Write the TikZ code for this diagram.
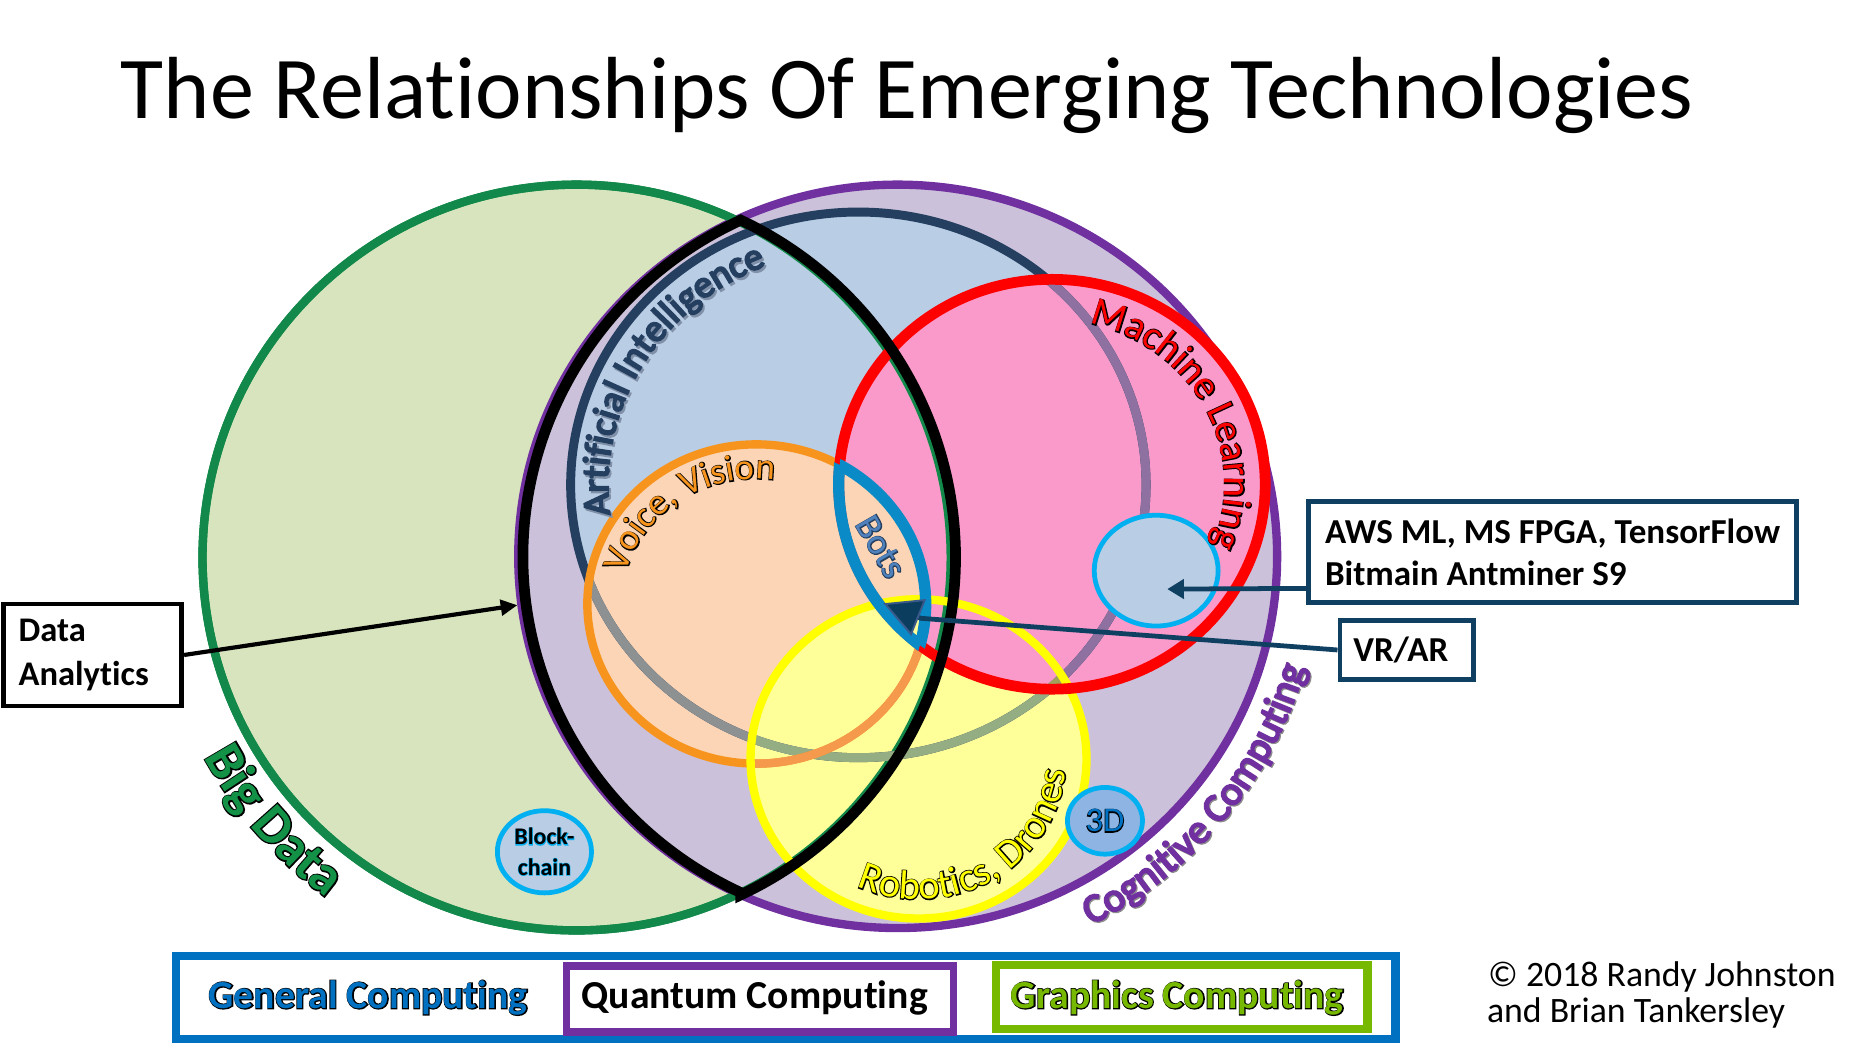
\documentclass[tikz,border=0pt]{standalone}
\usepackage{fontspec}
\setmainfont{Carlito}[Ligatures=NoCommon]
\newfontfamily\fatfont{Carlito}[FakeBold=5, Ligatures=NoCommon]
\usetikzlibrary{decorations.text,arrows.meta,shapes.geometric}
\definecolor{bdline}{HTML}{12894A}
\definecolor{bdfill}{HTML}{D7E4BD}
\definecolor{bdtext}{HTML}{139247}
\definecolor{ccline}{HTML}{7030A0}
\definecolor{ccfill}{HTML}{CCC1DA}
\definecolor{ailine}{HTML}{243F60}
\definecolor{aifill}{HTML}{B9CDE5}
\definecolor{aigrey}{HTML}{8E9191}
\definecolor{aigreen}{HTML}{95AD83}
\definecolor{aipurp}{HTML}{8E71A0}
\definecolor{aiolive}{HTML}{A3A05C}
\definecolor{aishadow}{HTML}{8090A8}
\definecolor{mlline}{HTML}{FF0000}
\definecolor{mlfill}{HTML}{FA9ACA}
\definecolor{orline}{HTML}{F7941D}
\definecolor{orlight}{HTML}{F5994C}
\definecolor{orfill}{HTML}{FBD5B5}
\definecolor{yeline}{HTML}{FFFF00}
\definecolor{yefill}{HTML}{FFFF99}
\definecolor{botsline}{HTML}{0A8AC6}
\definecolor{botstext}{HTML}{4F81BD}
\definecolor{cyanline}{HTML}{00B0F0}
\definecolor{tdfill}{HTML}{8DB4E2}
\definecolor{navybox}{HTML}{0F4061}
\definecolor{vrfill}{HTML}{0B3D5E}
\definecolor{vredge}{HTML}{3A5A8C}
\definecolor{legblue}{HTML}{0070C0}
\definecolor{leggreen}{HTML}{76B900}
\newcommand{\outl}[3]{\rlap{\color{#1}\fatfont #3}{\color{#2}#3}}
\begin{document}
\begin{tikzpicture}[x=1pt,y=1pt]
\tikzset{
  gE/.style={insert path={(484,422) ellipse [x radius=314, y radius=313]}},
  pE/.style={insert path={(753.5,423) ellipse [x radius=318.5, y radius=312]}},
  aE/.style={insert path={(720.5,483) ellipse [x radius=241.5, y radius=229]}},
  mE/.style={insert path={(883,483.5) ellipse [x radius=179, y radius=172]}},
  oE/.style={insert path={(635,383) ellipse [x radius=142, y radius=134]}},
  yE/.style={insert path={(771,253) ellipse [x radius=141, y radius=134]}},
  curved/.style n args={3}{decorate, decoration={text along path, text align=center, text color=#1, text={|#2|#3}}},
  boxstyle/.style={draw=navybox, line width=4pt, fill=white, inner sep=0pt, align=left, font=\bfseries\fontsize{29.4}{36}\selectfont},
  legtext/.style={anchor=base, inner sep=0pt, font=\bfseries\fontsize{33.3}{40}\selectfont},
  smallell/.style={ellipse, draw=cyanline, line width=4pt, inner sep=0pt},
}
\fill[white] (0,0) rectangle (1568,890);
\useasboundingbox (0,0) rectangle (1568,890);

% ---------- fills ----------
\filldraw[fill=bdfill, draw=bdline, line width=7pt, gE];
\filldraw[fill=ccfill, draw=ccline, line width=7pt, pE];
\fill[aifill, aE];
\fill[mlfill, mE];
\fill[orfill, oE];
\fill[yefill, yE];
\begin{scope}
  \clip[mE]; \clip[yE];
  \fill[mlfill, even odd rule] (500,0) rectangle (1200,700) (635,383) ellipse [x radius=142, y radius=134];
\end{scope}
\draw[bdline, line width=7pt, gE];

% ---------- AI outline (seen through the other shapes) ----------
\draw[ailine, line width=7.5pt, aE];
\begin{scope}\clip[oE]; \draw[aigrey, line width=7.5pt, aE];\end{scope}
\begin{scope}\clip[mE]; \draw[aipurp, line width=7.5pt, aE];\end{scope}
\begin{scope}\clip[yE]; \draw[aigreen, line width=7.5pt, aE];\end{scope}
\begin{scope}\clip[mE]; \clip[yE]; \draw[aiolive, line width=7.5pt, aE];\end{scope}

% ---------- other outlines ----------
\draw[orline, line width=7pt, oE];
\begin{scope}\clip[yE]; \draw[orlight, line width=7pt, oE];\end{scope}
\draw[yeline, line width=7pt, yE];
\draw[mlline, line width=9pt, mE];
\begin{scope}\clip[oE]; \draw[botsline, line width=9.5pt, mE];\end{scope}
\begin{scope}\clip[mE]; \draw[botsline, line width=9.5pt, oE];\end{scope}

% ---------- black lens (intersection of Big Data and Cognitive) ----------
\draw[black, line width=9pt, line join=miter] (488,422) ++(-64.8:314 and 313)
  arc[start angle=-64.8, end angle=64.8, x radius=314, y radius=313]
  arc[start angle=115.24, end angle=244.76, x radius=318.5, y radius=312] -- cycle;

% ---------- small circles ----------
\node[smallell, fill=aifill, minimum width=79pt, minimum height=69pt, align=center,
      font=\bfseries\fontsize{20}{25.3}\selectfont] (block) at (457,175)
      {\outl{cyanline}{black}{Block-}\\\outl{cyanline}{black}{chain}};
\node[smallell, fill=tdfill, minimum width=63pt, minimum height=56pt,
      font=\fontsize{29}{29}\selectfont] (td) at (927.5,201) {\outl{black}{legblue}{3D}};
\node[smallell, fill=aifill, minimum width=104pt, minimum height=93pt] (awsell) at (970.5,411) {};

% ---------- curved labels ----------
\path[curved={aishadow}{\fatfont\fontsize{32}{32}\selectfont}{Artificial Intelligence}]
  (722,481) ++(212:210 and 198) arc[start angle=212, end angle=88, x radius=210, y radius=198];
\path[curved={ailine}{\fatfont\fontsize{32}{32}\selectfont}{Artificial Intelligence}]
  (720.5,483) ++(212:210 and 198) arc[start angle=212, end angle=88, x radius=210, y radius=198];

\path[curved={black}{\fatfont\fontsize{31}{31}\selectfont}{Voice, Vision}]
  (635,383) ++(195:113 and 105) arc[start angle=195, end angle=55, x radius=113, y radius=105];
\path[curved={orline}{\fontsize{31}{31}\selectfont}{Voice, Vision}]
  (635,383) ++(195:113 and 105) arc[start angle=195, end angle=55, x radius=113, y radius=105];

\path[curved={black}{\fatfont\fontsize{33.5}{33.5}\selectfont}{Machine Learning}]
  (883,483.5) ++(100:145 and 138) arc[start angle=100, end angle=-45, x radius=145, y radius=138];
\path[curved={mlline}{\fontsize{33.5}{33.5}\selectfont}{Machine Learning}]
  (883,483.5) ++(100:145 and 138) arc[start angle=100, end angle=-45, x radius=145, y radius=138];

\path[curved={black}{\fatfont\fontsize{34}{34}\selectfont}{Robotics, Drones}]
  (771,253) ++(-130:124 and 118) arc[start angle=-130, end angle=11, x radius=124, y radius=118];
\path[curved={yeline}{\fontsize{34}{34}\selectfont}{Robotics, Drones}]
  (771,253) ++(-130:124 and 118) arc[start angle=-130, end angle=11, x radius=124, y radius=118];

\path[curved={black!45}{\fatfont\fontsize{34}{34}\selectfont}{Cognitive Computing}]
  (754.5,422) ++(-85:355 and 348) arc[start angle=-85, end angle=7, x radius=355, y radius=348];
\path[curved={ccline}{\fatfont\fontsize{34}{34}\selectfont}{Cognitive Computing}]
  (753.5,423) ++(-85:355 and 348) arc[start angle=-85, end angle=7, x radius=355, y radius=348];

\path[curved={black}{\fatfont\bfseries\fontsize{45.5}{45.5}\selectfont}{Big Data}]
  (484,422) ++(195:355 and 354) arc[start angle=195, end angle=247, x radius=355, y radius=354];
\path[curved={bdtext}{\bfseries\fontsize{45.5}{45.5}\selectfont}{Big Data}]
  (484,422) ++(195:355 and 354) arc[start angle=195, end angle=247, x radius=355, y radius=354];

\node[rotate=-60, inner sep=0pt, font=\fontsize{30.5}{30.5}\selectfont] (bots) at (739.5,431)
  {\outl{ailine}{botstext}{Bots}};

% ---------- callout boxes and arrows ----------
\node[boxstyle, draw=black, minimum width=149.7pt, minimum height=85.6pt, text width=124pt,
      font=\bfseries\fontsize{29}{36.4}\selectfont] (da) at (77.65,340.2) {Data\\Analytics};
\node[boxstyle, minimum width=409.7pt, minimum height=84.9pt] (aws)
      at (1303.2,426.4) {AWS ML, MS FPGA, TensorFlow\\Bitmain Antminer S9};
\node[boxstyle, minimum width=111.9pt, minimum height=49.2pt, text width=89.3pt] (vr)
      at (1180.65,344.4) {VR/AR};

\coordinate (datip) at (434.3,382);
\draw[black, line width=3.5pt, -{Triangle[length=14pt, width=13pt]}] (da.east) -- (datip);
\coordinate (awstip) at (979.8,395.5);
\draw[navybox, line width=4pt, -{Triangle[length=14pt, width=16pt]}] ([yshift=-30.3pt]aws.west) -- (awstip);
\coordinate (vrbend) at (772.9,371);
\coordinate (vrtip) at (741.5,383.6);
\draw[navybox, line width=4pt, -{Triangle[length=32pt, width=33pt, fill=vrfill, color=vredge, line width=1.6pt]}]
  (vr.west) -- (vrbend) -- (vrtip);

% ---------- legend ----------
\node[draw=legblue, line width=7pt, minimum width=1023.4pt, minimum height=69.9pt, inner sep=0pt] (legend) at (659.7,52.65) {};
\node[draw=ccline, line width=6.5pt, minimum width=324.8pt, minimum height=55pt, inner sep=0pt] (qbox) at (637.9,51.5) {};
\node[draw=leggreen, line width=7pt, minimum width=312.1pt, minimum height=54pt, inner sep=0pt] (gbox) at (991.85,53.1) {};
\node[legtext] (gentext) at (309,43.6) {\outl{black}{legblue}{General Computing}};
\node[legtext] (qtext) at (633.5,43.6) {Quantum Computing};
\node[legtext] (grtext) at (988.2,43.6) {\outl{black}{leggreen}{Graphics Computing}};

% ---------- title and credit ----------
\node[anchor=base, inner sep=0pt, font=\fontsize{74}{80}\selectfont] (title) at (761.5,790.7)
  {The Relationships Of Emerging Technologies};
\node[anchor=base west, inner sep=0pt, font=\fontsize{30}{31}\selectfont] (copy1) at (1249,62.3) {© 2018 Randy Johnston};
\node[anchor=base west, inner sep=0pt, font=\fontsize{30}{31}\selectfont] (copy2) at (1248,31.5) {and Brian Tankersley};
\end{tikzpicture}
\end{document}
